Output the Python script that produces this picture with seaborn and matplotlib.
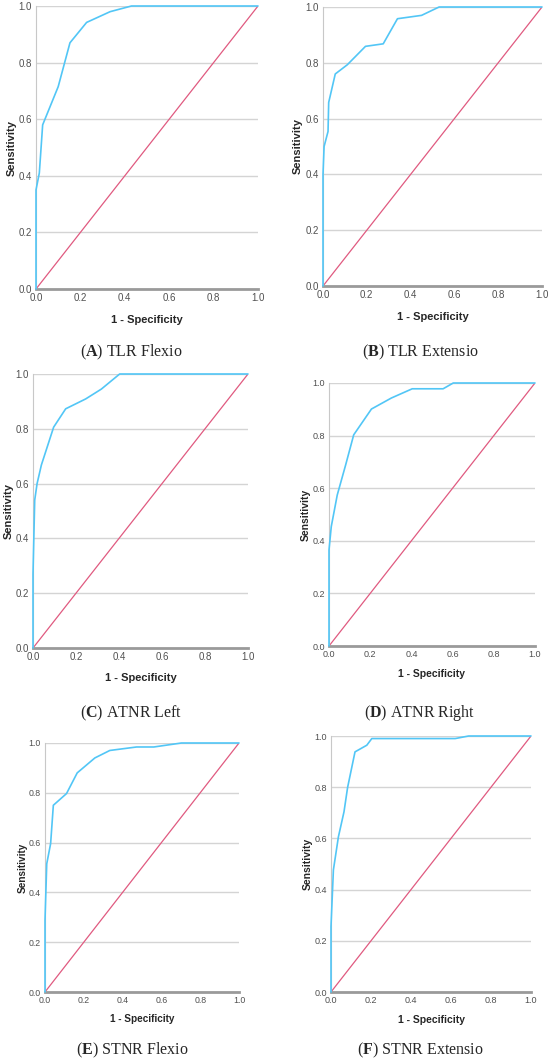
import numpy as np
import pandas as pd
import matplotlib
matplotlib.use("Agg")
import matplotlib.pyplot as plt
import seaborn as sns

sns.set_style("white")
plt.rcParams['font.family'] = ['Liberation Sans', 'DejaVu Sans']
plt.rcParams['mathtext.fontset'] = 'custom'
plt.rcParams['mathtext.rm'] = 'Liberation Serif'
plt.rcParams['mathtext.bf'] = 'Liberation Serif:bold'

# ROC curves: (1 - specificity, sensitivity)
tlr_flexio_fpr = [0.0, 0.0, 0.015, 0.03, 0.10, 0.153, 0.228, 0.334, 0.43, 1.0]
tlr_flexio_tpr = [0.0, 0.35, 0.41, 0.58, 0.715, 0.87, 0.942, 0.98, 1.0, 1.0]

tlr_ext_fpr = [0.0, 0.0, 0.005, 0.023, 0.026, 0.056, 0.111, 0.194, 0.275, 0.34, 0.45, 0.53, 1.0]
tlr_ext_tpr = [0.0, 0.40, 0.50, 0.554, 0.658, 0.76, 0.793, 0.859, 0.868, 0.958, 0.97, 1.0, 1.0]

atnr_left_fpr = [0.0, 0.0, 0.008, 0.019, 0.039, 0.096, 0.152, 0.245, 0.318, 0.403, 1.0]
atnr_left_tpr = [0.0, 0.27, 0.54, 0.60, 0.668, 0.806, 0.873, 0.909, 0.945, 1.0, 1.0]

atnr_right_fpr = [0.0, 0.0, 0.011, 0.04, 0.081, 0.12, 0.206, 0.303, 0.404, 0.554, 0.603, 1.0]
atnr_right_tpr = [0.0, 0.365, 0.454, 0.574, 0.689, 0.803, 0.901, 0.943, 0.978, 0.978, 1.0, 1.0]

stnr_flexio_fpr = [0.0, 0.0, 0.009, 0.029, 0.043, 0.111, 0.166, 0.257, 0.334, 0.472, 0.561, 0.703, 1.0]
stnr_flexio_tpr = [0.0, 0.288, 0.515, 0.596, 0.75, 0.797, 0.88, 0.94, 0.97, 0.984, 0.984, 1.0, 1.0]

stnr_ext_fpr = [0.0, 0.0, 0.012, 0.037, 0.065, 0.083, 0.12, 0.179, 0.204, 0.621, 0.688, 1.0]
stnr_ext_tpr = [0.0, 0.256, 0.477, 0.606, 0.704, 0.799, 0.938, 0.964, 0.99, 0.99, 1.0, 1.0]

letters = ['A', 'B', 'C', 'D', 'E', 'F']
names = ['TLR Flexio', 'TLR Extensio', 'ATNR Left', 'ATNR Right', 'STNR Flexio', 'STNR Extensio']
curves = [
    (tlr_flexio_fpr, tlr_flexio_tpr),
    (tlr_ext_fpr, tlr_ext_tpr),
    (atnr_left_fpr, atnr_left_tpr),
    (atnr_right_fpr, atnr_right_tpr),
    (stnr_flexio_fpr, stnr_flexio_tpr),
    (stnr_ext_fpr, stnr_ext_tpr),
]
ticks = [0.0, 0.2, 0.4, 0.6, 0.8, 1.0]

W, H = 550, 1064
# axes boxes in pixels: left, top, right, bottom
boxes = [
    (36, 6, 258, 289),
    (323, 7, 542, 286),
    (33, 374, 248, 648),
    (329, 383, 535, 646),
    (45, 743, 239, 992),
    (331, 736, 531, 992),
]
caption_pos = [(131, 352), (420, 352), (131, 713), (420, 713), (132, 1050), (420, 1050)]
xlabel_y = [320, 317, 678, 674, 1019, 1020]
ylabel_x = [12, 298, 9, 306, 23, 308]
tick_size = [7, 7, 7, 6.5, 6.3, 6.5]
label_size = [8, 8, 8, 7.5, 7.2, 7.5]

roc_col = '#52c6f6'
ref_col = '#e05a80'

fig = plt.figure(figsize=(W / 100, H / 100), dpi=100)

for i, (fpr, tpr) in enumerate(curves):
    l, t, r, b = boxes[i]
    ax = fig.add_axes([l / W, 1 - b / H, (r - l) / W, (b - t) / H])
    df = pd.DataFrame({'fpr': fpr, 'tpr': tpr})
    sns.lineplot(x=[0, 1], y=[0, 1], color=ref_col, lw=0.9, ax=ax)
    sns.lineplot(data=df, x='fpr', y='tpr', sort=False, estimator=None,
                 color=roc_col, lw=1.2, ax=ax, clip_on=False, zorder=5)
    ax.set_xlim(0, 1)
    ax.set_ylim(0, 1)
    ax.set_xticks(ticks)
    ax.set_yticks(ticks)
    ax.set_xticklabels([f'{v:.1f}' for v in ticks])
    ax.set_yticklabels([f'{v:.1f}' for v in ticks])
    ax.tick_params(length=0, labelsize=tick_size[i], labelcolor='#505050', pad=3)
    ax.yaxis.grid(True, color='#d4d4d4', lw=1.0)
    ax.set_axisbelow(True)
    for s in ['top', 'right']:
        ax.spines[s].set_visible(False)
    ax.spines['left'].set_color('#c8c8c8')
    ax.spines['left'].set_linewidth(0.8)
    ax.spines['bottom'].set_color('#9a9a9a')
    ax.spines['bottom'].set_linewidth(2.0)
    ax.set_xlabel('')
    ax.set_ylabel('')
    fig.text(ylabel_x[i] / W, 1 - (t + b) / 2 / H, 'Sensitivity', rotation=90,
             fontsize=label_size[i], fontweight='bold', ha='center', va='center')
    fig.text((l + r) / 2 / W, 1 - xlabel_y[i] / H, '1 - Specificity',
             fontsize=label_size[i], fontweight='bold', ha='center', va='center')
    cx, cy = caption_pos[i]
    fig.text(cx / W, 1 - cy / H, r'($\mathbf{' + letters[i] + r'}$) ' + names[i],
             family='Liberation Serif', fontsize=11.5, ha='center', va='center')

fig.savefig('out.png', dpi=100, facecolor='white')
